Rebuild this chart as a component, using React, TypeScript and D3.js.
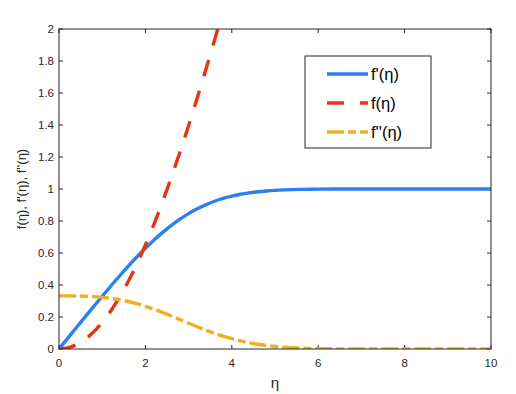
import React from "react";
import * as d3 from "d3";

const etaValues = [0, 0.2, 0.4, 0.6, 0.8, 1.0, 1.2, 1.4, 1.6, 1.8, 2.0, 2.2, 2.4, 2.6, 2.8, 3.0, 3.2, 3.4, 3.6, 3.8, 4.0, 4.2, 4.4, 4.6, 4.8, 5.0, 5.2, 5.4, 5.6, 5.8, 6.0, 6.4, 7.0, 8.0, 9.0, 10.0];
const fValues = [0, 0.00664, 0.02656, 0.05974, 0.10611, 0.16557, 0.23795, 0.32298, 0.42032, 0.52952, 0.65003, 0.7812, 0.9223, 1.07252, 1.23099, 1.39682, 1.56911, 1.74696, 1.92954, 2.11605, 2.30576, 2.49806, 2.69238, 2.88826, 3.08534, 3.28329, 3.48189, 3.68094, 3.88031, 4.0799, 4.27964, 4.6793, 5.2792, 6.2792, 7.2792, 8.2792];
const fpValues = [0, 0.06641, 0.13277, 0.19894, 0.26471, 0.32979, 0.39378, 0.45627, 0.51676, 0.57477, 0.62977, 0.68132, 0.72899, 0.77246, 0.81152, 0.84605, 0.87609, 0.90177, 0.92333, 0.94112, 0.95552, 0.96696, 0.97587, 0.98269, 0.98779, 0.99155, 0.99425, 0.99616, 0.99748, 0.99838, 0.99898, 0.99961, 0.99992, 1.0, 1.0, 1.0];
const fppValues = [0.33206, 0.33199, 0.33147, 0.33008, 0.32739, 0.32301, 0.31659, 0.30787, 0.29667, 0.28293, 0.26675, 0.24835, 0.22809, 0.20646, 0.18401, 0.16136, 0.13913, 0.11788, 0.09809, 0.08013, 0.06424, 0.05052, 0.03897, 0.02948, 0.02187, 0.01591, 0.01134, 0.00793, 0.00543, 0.00365, 0.0024, 0.00098, 0.00022, 0.00001, 0, 0];
const xTicks = [0, 2, 4, 6, 8, 10];
const yTicks = [0, 0.2, 0.4, 0.6, 0.8, 1, 1.2, 1.4, 1.6, 1.8, 2];
const legendLabels = ["f'(η)", "f(η)", "f''(η)"];

const W = 516, H = 394;
const L = 59, R = 491, T = 29, B = 349;
const font = "'Liberation Sans', Arial, sans-serif";

export default function App() {
  const x = d3.scaleLinear().domain([0, 10]).range([L, R]);
  const y = d3.scaleLinear().domain([0, 2]).range([B, T]);
  const line = (ys: number[]) =>
    d3.line<number>().x((_, i) => x(etaValues[i])).y((v) => y(v)).curve(d3.curveMonotoneX)(ys) || "";

  const series = [
    { vals: fpValues, color: "#2a80f2", dash: "none" },
    { vals: fValues, color: "#e2370f", dash: "17,15" },
    { vals: fppValues, color: "#edb120", dash: "17,4,8,4" },
  ];

  return (
    <svg width={W} height={H} style={{ position: "absolute", left: 0, top: 0, background: "#fff" }}>
      <defs>
        <clipPath id="plotclip">
          <rect x={L} y={T} width={R - L} height={B - T} />
        </clipPath>
      </defs>
      <rect x={0} y={0} width={W} height={H} fill="#fff" />
      {xTicks.map((t) => (
        <g key={"x" + t}>
          <line x1={x(t)} x2={x(t)} y1={B} y2={B - 4} stroke="#262626" strokeWidth={1} />
          <line x1={x(t)} x2={x(t)} y1={T} y2={T + 4} stroke="#262626" strokeWidth={1} />
          <text x={x(t)} y={B + 18} textAnchor="middle" fontFamily={font} fontSize={11.5} fill="#262626">
            {t}
          </text>
        </g>
      ))}
      {yTicks.map((t) => (
        <g key={"y" + t}>
          <line x1={L} x2={L + 4} y1={y(t)} y2={y(t)} stroke="#262626" strokeWidth={1} />
          <line x1={R} x2={R - 4} y1={y(t)} y2={y(t)} stroke="#262626" strokeWidth={1} />
          <text x={L - 5} y={y(t) + 4} textAnchor="end" fontFamily={font} fontSize={11.5} fill="#262626">
            {String(t)}
          </text>
        </g>
      ))}
      <g clipPath="url(#plotclip)">
        {series.map((s, i) => (
          <path key={i} d={line(s.vals)} fill="none" stroke={s.color} strokeWidth={3.4} strokeDasharray={s.dash} />
        ))}
      </g>
      <rect x={L} y={T} width={R - L} height={B - T} fill="none" stroke="#262626" strokeWidth={1} />
      <text x={(L + R) / 2} y={388} textAnchor="middle" fontFamily={font} fontSize={15} fill="#262626">
        η
      </text>
      <text
        transform={`translate(26,${(T + B) / 2}) rotate(-90)`}
        textAnchor="middle"
        fontFamily={font}
        fontSize={13}
        fill="#262626"
      >
        f(η), f'(η), f''(η)
      </text>
      <rect x={305} y={56} width={126} height={92} fill="#fff" stroke="#262626" strokeWidth={1} />
      {series.map((s, i) => (
        <g key={"lg" + i}>
          <line
            x1={327}
            x2={368}
            y1={74 + i * 29}
            y2={74 + i * 29}
            stroke={s.color}
            strokeWidth={3.4}
            strokeDasharray={s.dash === "none" ? "none" : s.dash === "17,15" ? "17,16,9,0" : s.dash}
          />
          <text x={371} y={80 + i * 29} fontFamily={font} fontSize={16.5} fill="#000">
            {legendLabels[i]}
          </text>
        </g>
      ))}
    </svg>
  );
}
